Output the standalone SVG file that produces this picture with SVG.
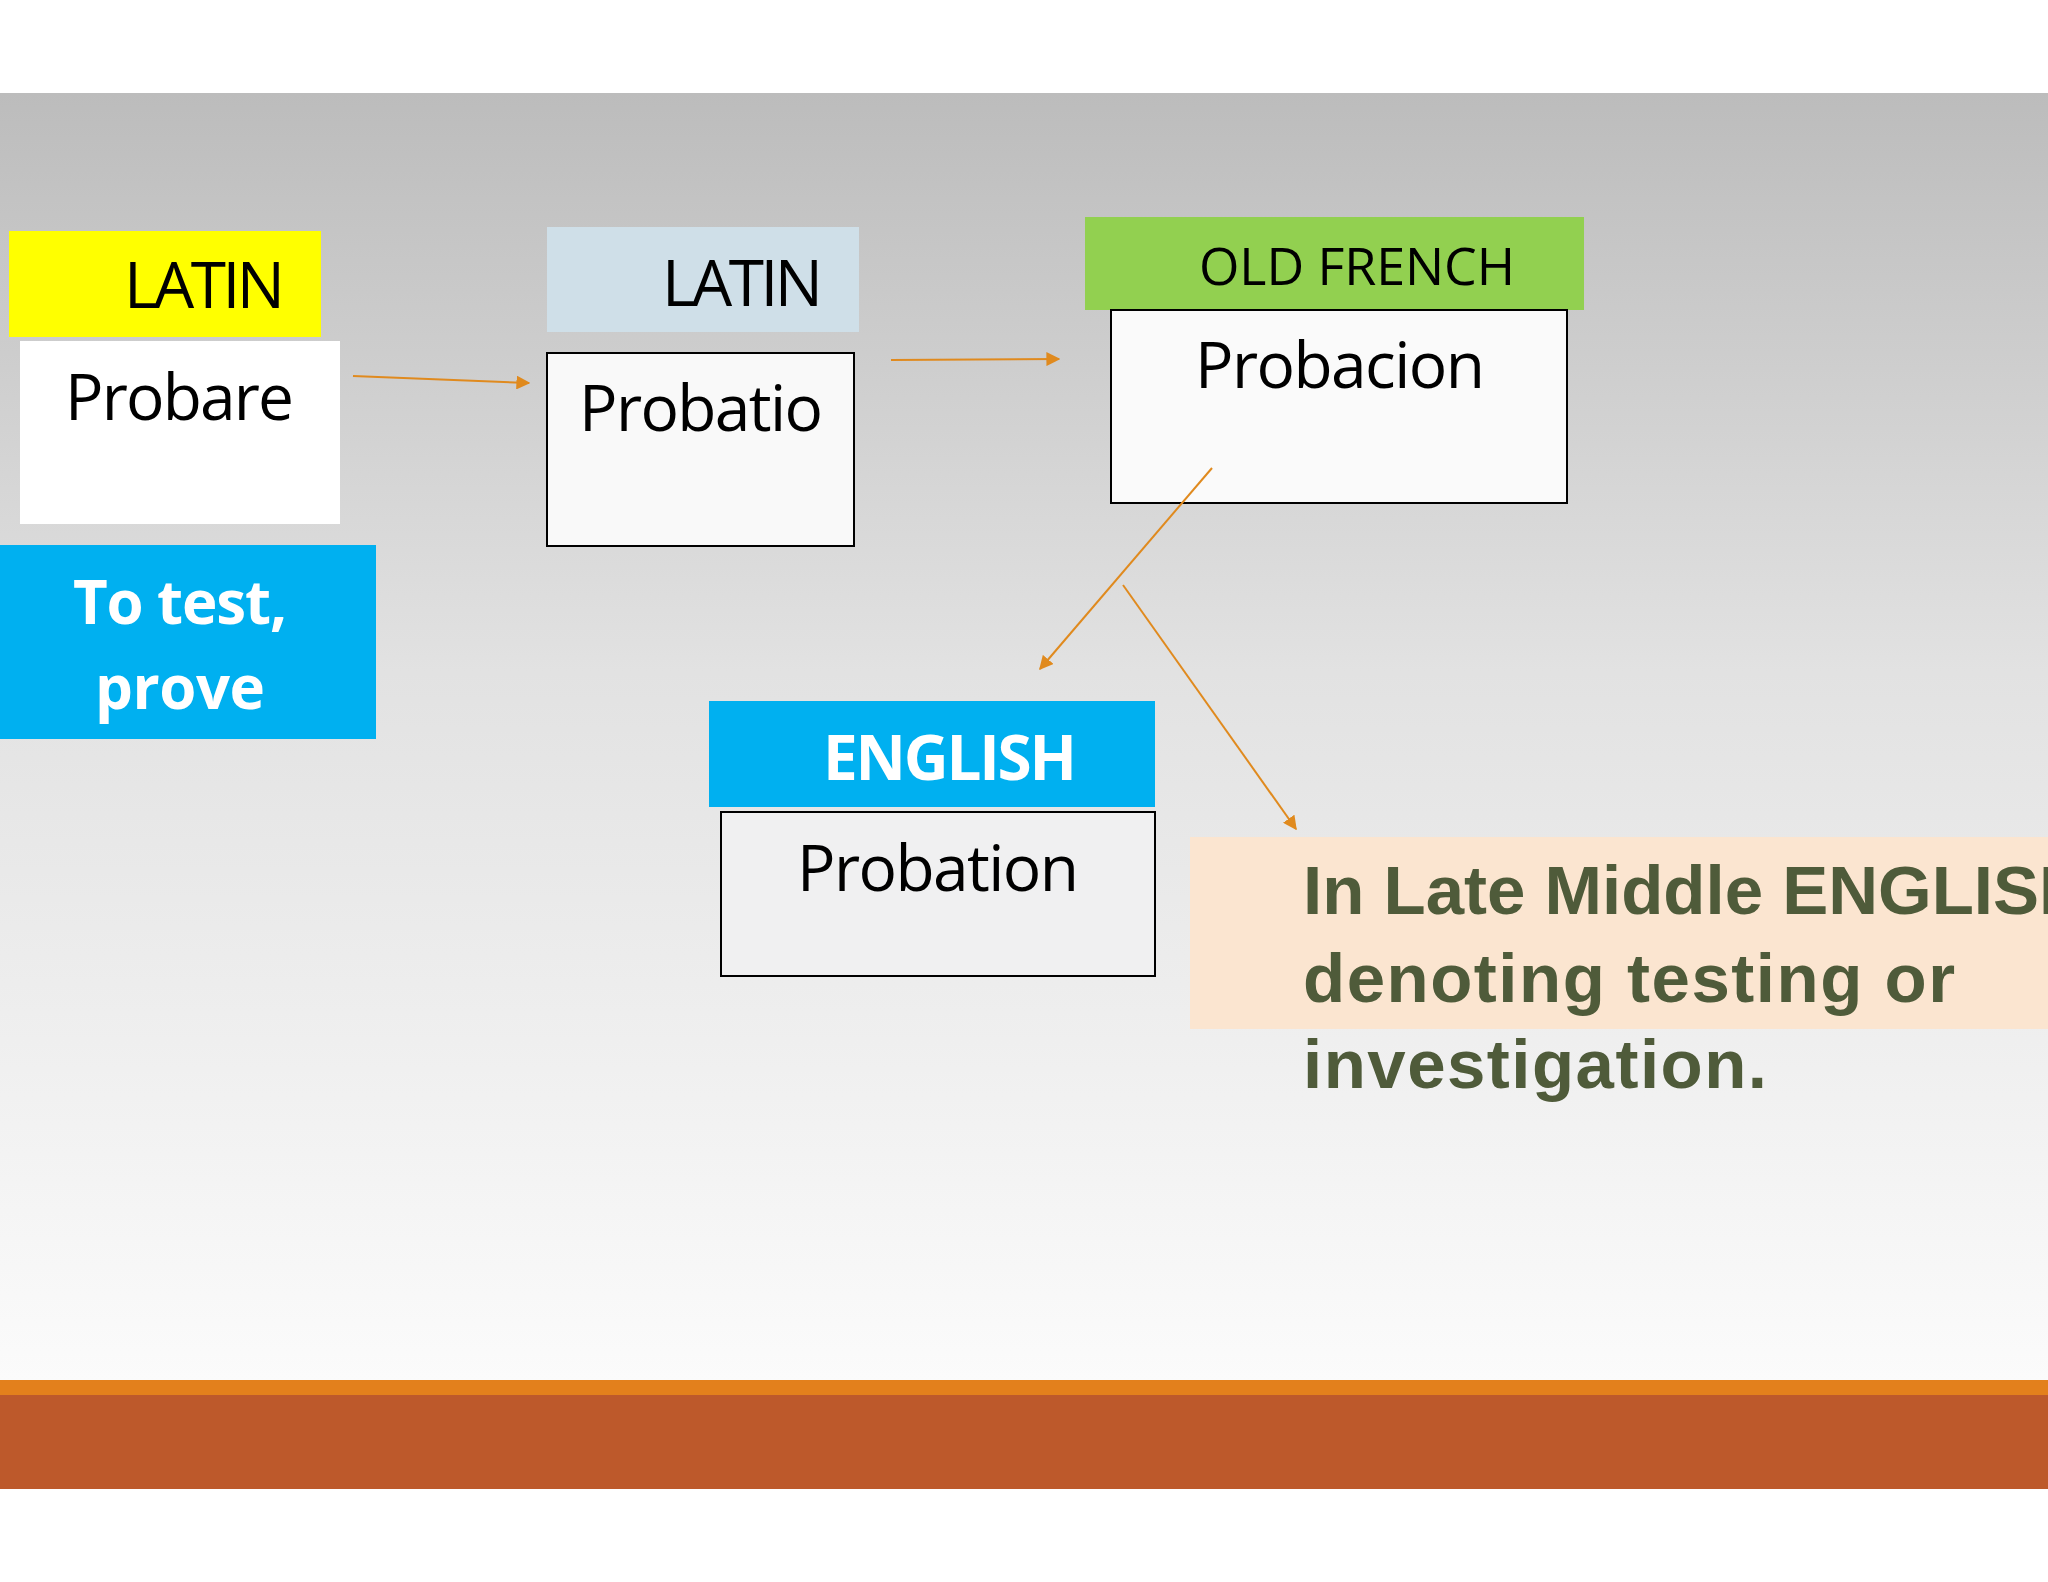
<svg xmlns="http://www.w3.org/2000/svg" width="2048" height="1582" viewBox="0 0 2048 1582">
<defs>
<linearGradient id="bg" x1="0" y1="0" x2="0" y2="1"><stop offset="0" stop-color="#bcbcbc"/><stop offset="0.45" stop-color="#e2e2e2"/><stop offset="1" stop-color="#fbfbfb"/></linearGradient>
<marker id="ah" viewBox="0 0 10 10" refX="9" refY="5" markerWidth="7" markerHeight="7" orient="auto"><path d="M0,0L10,5L0,10z" fill="#E08A1E"/></marker>
<style>
.c{font-family:"Open Sans","Liberation Sans",sans-serif;fill:#000}
.w{font-family:"Open Sans","Liberation Sans",sans-serif;fill:#fff;font-weight:bold}
.a{stroke:#E08A1E;stroke-width:2;fill:none;marker-end:url(#ah)}
.b{stroke:#000;stroke-width:2}
</style>
</defs>
<rect width="2048" height="1582" fill="#fff"/>
<rect y="93" width="2048" height="1287" fill="url(#bg)"/>
<rect y="1380" width="2048" height="15" fill="#E3801C"/>
<rect y="1395" width="2048" height="94" fill="#BD592B"/>
<g id="latin1"><rect x="9" y="231" width="312" height="106" fill="#FFFF00"/><text class="c" x="124" y="308" font-size="64" textLength="161">LATIN</text></g>
<g id="probare"><rect x="20" y="341" width="320" height="183" fill="#fff"/><text class="c" x="65" y="420" font-size="64" textLength="229">Probare</text></g>
<g id="meaning"><rect x="0" y="545" width="376" height="194" fill="#00B0F0"/><text class="w" x="180" y="624" font-size="60" text-anchor="middle" textLength="214">To test,</text><text class="w" x="180" y="709" font-size="60" text-anchor="middle" textLength="170">prove</text></g>
<g id="latin2"><rect x="547" y="227" width="312" height="105" fill="#CFDFE8"/><text class="c" x="662" y="306" font-size="64" textLength="161">LATIN</text></g>
<g id="probatio"><rect class="b" x="547" y="353" width="307" height="193" fill="#f9f9f9"/><text class="c" x="579" y="431" font-size="64" textLength="244">Probatio</text></g>
<g id="oldfrench"><rect x="1085" y="217" width="499" height="93" fill="#92D050"/><text class="c" x="1199" y="285" font-size="52" textLength="316">OLD FRENCH</text></g>
<g id="probacion"><rect class="b" x="1111" y="310" width="456" height="193" fill="#fafafa"/><text class="c" x="1195" y="388" font-size="64" textLength="290">Probacion</text></g>
<g id="english"><rect x="709" y="701" width="446" height="106" fill="#00B0F0"/><text class="w" x="823" y="780" font-size="62" textLength="254">ENGLISH</text></g>
<g id="probation"><rect class="b" x="721" y="812" width="434" height="164" fill="#f0f0f1"/><text class="c" x="797" y="891" font-size="64" textLength="282">Probation</text></g>
<g id="note"><rect x="1190" y="837" width="858" height="192" fill="#FBE5D0"/>
<g font-family="'Liberation Sans',Arial,sans-serif" font-weight="bold" font-size="69" fill="#4F5B3A"><text x="1303" y="914">In Late Middle ENGLISH</text><text x="1303" y="1002" textLength="652">denoting testing or</text><text x="1303" y="1088" textLength="464">investigation.</text></g></g>
<g id="connectors">
<line class="a" x1="353" y1="376" x2="529" y2="383"/>
<line class="a" x1="891" y1="360" x2="1059" y2="359"/>
<line class="a" x1="1212" y1="468" x2="1040" y2="669"/>
<line class="a" x1="1123" y1="585" x2="1296" y2="829"/>
</g>
</svg>
